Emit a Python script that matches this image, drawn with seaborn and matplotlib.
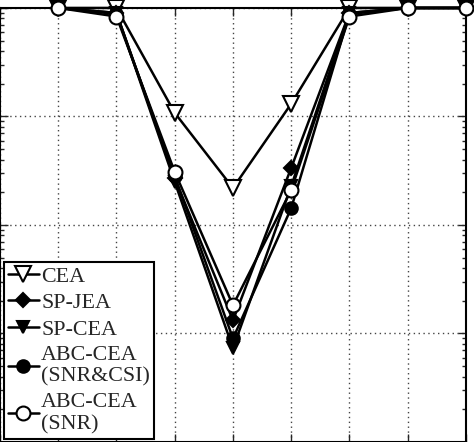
import numpy as np
import pandas as pd
import matplotlib
matplotlib.use("Agg")
import matplotlib.pyplot as plt
import seaborn as sns

sns.set_style("white")
plt.rcParams["font.family"] = ["Liberation Serif", "DejaVu Serif"]

x = [1, 2, 3, 4, 5, 6, 7, 8]
cea = [1.0, 1.0, 0.108, 0.0219, 0.131, 1.0, 1.0, 1.0]
sp_jea = [1.0, 0.9, 0.027, 0.00132, 0.0336, 0.9, 1.0, 1.0]
sp_cea = [1.0, 0.9, 0.0249, 0.00073, 0.0228, 0.9, 1.0, 1.0]
abc_both = [1.0, 0.88, 0.028, 0.0009, 0.0143, 0.88, 1.0, 1.0]
abc_snr = [1.0, 0.834, 0.0308, 0.00182, 0.021, 0.834, 1.0, 1.0]

labels = ["CEA", "SP-JEA", "SP-CEA", "ABC-CEA\n(SNR&CSI)", "ABC-CEA\n(SNR)"]
series = [cea, sp_jea, sp_cea, abc_both, abc_snr]
markers = ["v", "D", "v", "o", "o"]
sizes = [12, 7, 8, 9, 10]
faces = ["white", "black", "black", "black", "white"]

fig = plt.figure(figsize=(4.74, 4.42), dpi=100)
ax = fig.add_axes([0.0, 0.0, 0.983, 0.982])

for ys, lab, m, ms, fc in zip(series, labels, markers, sizes, faces):
    df = pd.DataFrame({"x": x, "y": ys})
    sns.lineplot(data=df, x="x", y="y", ax=ax, color="black", linewidth=1.8,
                 marker=m, markersize=ms, markerfacecolor=fc,
                 markeredgecolor="black", markeredgewidth=1.5,
                 clip_on=False, label=lab, zorder=3)

ax.set_yscale("log")
ax.set_xlim(0, 8)
ax.set_ylim(1e-4, 1)
ax.set_xticks(range(0, 9))
ax.grid(True, which="major", linestyle=(0, (1, 2.5)), color="#444444", linewidth=1)
ax.tick_params(which="both", direction="in", top=True, right=True, bottom=True, left=True,
               labelbottom=False, labelleft=False)
ax.tick_params(which="major", length=6, width=1)
ax.tick_params(which="minor", length=3, width=1)
for s in ax.spines.values():
    s.set_color("black")
    s.set_linewidth(1.5)
ax.set_xlabel("")
ax.set_ylabel("")

leg = ax.legend(loc="lower left", bbox_to_anchor=(0.008, 0.008), fontsize=15.8,
                frameon=True, fancybox=False, edgecolor="black", framealpha=1,
                handlelength=1.4, handletextpad=0.1, labelspacing=0.28,
                borderpad=0.2, borderaxespad=0)
leg.get_frame().set_linewidth(1.5)

fig.savefig("out.png", dpi=100)
